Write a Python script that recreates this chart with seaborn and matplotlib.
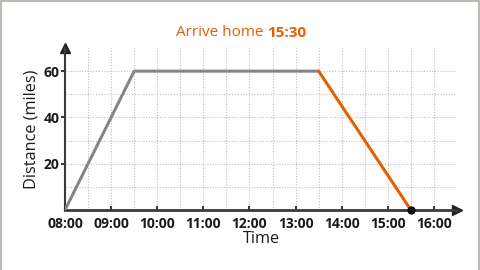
import matplotlib
matplotlib.use("Agg")
import matplotlib.pyplot as plt
import seaborn as sns
import pandas as pd
from matplotlib.patches import Rectangle

# Data
times = [8.0, 9.5, 13.5, 15.5]          # hours
distances = [0, 60, 60, 0]              # miles
segment = ["out", "out", "home", "home"]
x_ticks = [8, 9, 10, 11, 12, 13, 14, 15, 16]
x_tick_labels = ["08:00", "09:00", "10:00", "11:00", "12:00", "13:00", "14:00", "15:00", "16:00"]
y_ticks = [20, 40, 60]
y_tick_labels = ["20", "40", "60"]

sns.set_style("white")
plt.rcParams['font.family'] = ['Open Sans', 'DejaVu Sans']

GREY = "#858585"
ORANGE = "#e35f00"
DARK = "#3a3a3a"

fig = plt.figure(figsize=(4.8, 2.7), dpi=100)
ax = fig.add_axes([65/480, (270-210)/270, (457-65)/480, (210-48)/270])

df = pd.DataFrame({"time": times, "distance": distances, "seg": segment})
grey_part = df.iloc[0:3]
orange_part = df.iloc[2:4]

ax.set_xlim(8, 16.5)
ax.set_ylim(0, 70)

# grid
for gx in [8.5 + 0.5 * i for i in range(16)]:
    ax.axvline(gx, color="#bdbdbd", lw=0.8, ls=(0, (1, 1.5)), zorder=0)
for gy in [10, 20, 30, 40, 50, 60]:
    ax.axhline(gy, color="#bdbdbd", lw=0.8, ls=(0, (1, 1.5)), zorder=0)

sns.lineplot(data=grey_part, x="time", y="distance", color=GREY, lw=2.2, ax=ax,
             sort=False, estimator=None, zorder=3)
sns.lineplot(data=orange_part, x="time", y="distance", color=ORANGE, lw=2.2, ax=ax,
             sort=False, estimator=None, zorder=3)
ax.plot([times[-1]], [distances[-1]], "o", color="#111111", ms=5, zorder=5, clip_on=False)

# spines / axes arrows
for s in ["top", "right"]:
    ax.spines[s].set_visible(False)
ax.spines["left"].set_color(DARK)
ax.spines["bottom"].set_color(DARK)
ax.spines["left"].set_linewidth(1.5)
ax.spines["bottom"].set_linewidth(2.0)
ax.plot([0], [1], marker="^", color="#222222", ms=7, transform=ax.transAxes, clip_on=False)
ax.plot([1], [0], marker=">", color="#222222", ms=7, transform=ax.transAxes, clip_on=False)

ax.set_xticks(x_ticks)
ax.set_xticklabels(x_tick_labels, fontweight="bold", fontsize=10, color="#1a1a1a")
ax.set_yticks(y_ticks)
ax.set_yticklabels(y_tick_labels, fontweight="bold", fontsize=10, color="#1a1a1a")
ax.tick_params(axis="x", direction="in", length=3, width=1.5, color=DARK, pad=5, bottom=True)
ax.tick_params(axis="y", direction="out", length=3, width=1.5, color=DARK, pad=1, left=True)

ax.set_xlabel("Time", fontsize=11.7, color="#1a1a1a", labelpad=0)
ax.set_ylabel("Distance (miles)", fontsize=11.7, color="#1a1a1a", labelpad=3)
ax.set_facecolor("white")

fig.text(264/480, 1 - 33/270, "Arrive home", ha="right", va="center",
         fontsize=11, color=ORANGE)
fig.text(267/480, 1 - 33/270, "15:30", ha="left", va="center",
         fontsize=11, color=ORANGE, fontweight="bold")

# border
fig.patches.append(Rectangle((0.5/480, -0.01), 478.5/480, 1.0 - 0.5/270 + 0.01,
                             transform=fig.transFigure, fill=False,
                             edgecolor="#bbb8b0", lw=1.5))

fig.savefig("out.png", dpi=100)
